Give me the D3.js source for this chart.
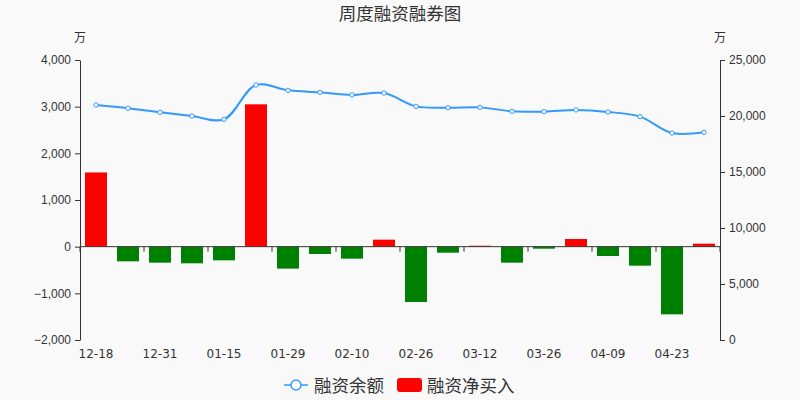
<!DOCTYPE html>
<html>
<head>
<meta charset="utf-8">
<script src="https://cdn.jsdelivr.net/npm/d3@7"></script>
<style>
  body { margin:0; background:#f9f9f9; }
  svg { font-family:"DejaVu Sans", "Noto Sans CJK SC", sans-serif; }
  .axis text { fill:#333; font-size:12px; }
  .axis path, .axis line { stroke:#333; }
</style>
</head>
<body>
<svg id="viewer"></svg>
<script>
var dates = ['12-18','12-25','12-31','01-08','01-15','01-22','01-29','02-05','02-10','02-19',
             '02-26','03-05','03-12','03-19','03-26','04-02','04-09','04-16','04-23','04-30'];
// 融资余额 (万)
var balance = [20980,20690,20330,20000,19700,22770,22290,22110,21880,22050,
               20860,20740,20770,20420,20390,20540,20360,19940,18480,18540];
// 融资净买入 (万)
var netBuy = [1590,-314,-343,-357,-293,3050,-471,-157,-257,150,
              -1186,-129,20,-343,-43,164,-200,-407,-1450,64];
var leftTicks = [-2000,-1000,0,1000,2000,3000,4000];
var rightTicks = [0,5000,10000,15000,20000,25000];

var W = 800, H = 400;
var m = {top:60, right:80, bottom:60, left:80};

var viewer = d3.select('#viewer')
  .attr('width',W)
  .attr('height',H);

var x = d3.scaleBand()
  .domain(dates)
  .range([m.left, W-m.right]);

var yL = d3.scaleLinear()
  .domain([-2000,4000])
  .range([H-m.bottom, m.top]);

var yR = d3.scaleLinear()
  .domain([0,25000])
  .range([H-m.bottom, m.top]);

var fmt = d3.format(',');

// title
viewer.append('text')
  .attr('x',W/2)
  .attr('y',20)
  .attr('text-anchor','middle')
  .style('font-size','17.5px')
  .style('fill','#333')
  .text('周度融资融券图');

// unit labels
viewer.append('text')
  .attr('x',m.left)
  .attr('y',42)
  .attr('text-anchor','middle')
  .style('font-size','12px')
  .style('fill','#333')
  .text('万');
viewer.append('text')
  .attr('x',W-m.right)
  .attr('y',42)
  .attr('text-anchor','middle')
  .style('font-size','12px')
  .style('fill','#333')
  .text('万');

// left axis
viewer.append('g')
  .attr('class','axis')
  .attr('transform','translate('+m.left+',0)')
  .call(d3.axisLeft(yL).tickValues(leftTicks).tickFormat(fmt).tickSize(5).tickSizeOuter(0).tickPadding(4));

// right axis
viewer.append('g')
  .attr('class','axis')
  .attr('transform','translate('+(W-m.right)+',0)')
  .call(d3.axisRight(yR).tickValues(rightTicks).tickFormat(fmt).tickSize(5).tickSizeOuter(0).tickPadding(4));

// bars
var bw = 22;
viewer.selectAll('.bar')
  .data(netBuy)
  .enter().append('rect')
    .attr('class','bar')
    .attr('x',function(d,i){return x(dates[i]) + (x.bandwidth()-bw)/2;})
    .attr('width',bw)
    .attr('y',function(d){return d>=0 ? yL(d) : yL(0);})
    .attr('height',function(d){return Math.abs(yL(d)-yL(0));})
    .style('fill',function(d){return d>=0 ? '#ff0000' : '#008000';});

// x axis at zero line
var xAxis = viewer.append('g')
  .attr('class','axis')
  .attr('transform','translate(0,'+yL(0)+')');
xAxis.append('line')
  .attr('x1',m.left).attr('x2',W-m.right)
  .attr('y1',0).attr('y2',0)
  .style('stroke','#333');
var tickIdx = d3.range(0, dates.length+1, 2);
xAxis.selectAll('.xtick')
  .data(tickIdx)
  .enter().append('line')
    .attr('class','xtick')
    .attr('x1',function(i){return m.left + i*x.step();})
    .attr('x2',function(i){return m.left + i*x.step();})
    .attr('y1',0).attr('y2',5)
    .style('stroke','#333');

viewer.selectAll('.xlabel')
  .data(dates.filter(function(d,i){return i%2===0;}))
  .enter().append('text')
    .attr('class','xlabel')
    .attr('x',function(d){return x(d)+x.bandwidth()/2;})
    .attr('y',H-m.bottom+18)
    .attr('text-anchor','middle')
    .style('font-size','12px')
    .style('fill','#333')
    .text(function(d){return d;});

// balance line
var line = d3.line()
  .x(function(d,i){return x(dates[i])+x.bandwidth()/2;})
  .y(function(d){return yR(d);})
  .curve(d3.curveCatmullRom.alpha(0.5));

viewer.append('path')
  .datum(balance)
  .attr('d',line)
  .style('fill','none')
  .style('stroke','#3399ff')
  .style('stroke-width',2);

viewer.selectAll('.dot')
  .data(balance)
  .enter().append('circle')
    .attr('class','dot')
    .attr('cx',function(d,i){return x(dates[i])+x.bandwidth()/2;})
    .attr('cy',function(d){return yR(d);})
    .attr('r',2.2)
    .style('fill','#fff')
    .style('stroke','#3399ff')
    .style('stroke-width',1);

// legend
var lg = viewer.append('g').attr('transform','translate(0,385)');
lg.append('line')
  .attr('x1',284).attr('x2',308)
  .attr('y1',0).attr('y2',0)
  .style('stroke','#3399ff').style('stroke-width',1.5);
lg.append('circle')
  .attr('cx',296).attr('cy',0).attr('r',5)
  .style('fill','#fff').style('stroke','#3399ff').style('stroke-width',1.5);
lg.append('text')
  .attr('x',314).attr('y',6.5)
  .style('font-size','17.5px').style('fill','#333')
  .text('融资余额');
lg.append('rect')
  .attr('x',397).attr('y',-7)
  .attr('width',25).attr('height',14)
  .attr('rx',3)
  .style('fill','#ff0000');
lg.append('text')
  .attr('x',427).attr('y',6.5)
  .style('font-size','17.5px').style('fill','#333')
  .text('融资净买入');
</script>
</body>
</html>
